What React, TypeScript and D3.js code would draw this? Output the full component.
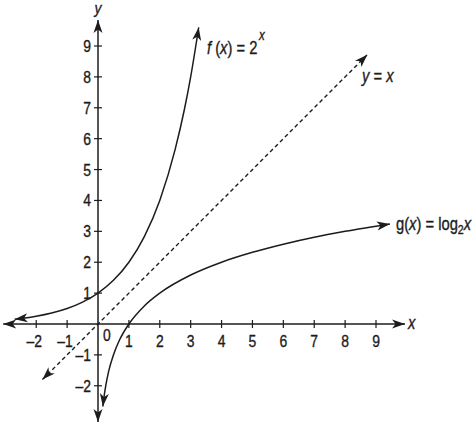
import React from "react";
import * as d3 from "d3";

const xTicks = [-2, -1, 1, 2, 3, 4, 5, 6, 7, 8, 9];
const yTicks = [-2, -1, 1, 2, 3, 4, 5, 6, 7, 8, 9];

// points for f(x) = 2^x
const expPoints: [number, number][] = [
  [-2.7, 0.154], [-2.5, 0.177], [-2, 0.25], [-1.5, 0.354], [-1, 0.5], [-0.5, 0.707],
  [0, 1], [0.5, 1.414], [1, 2], [1.5, 2.83], [2, 4], [2.5, 5.66], [2.8, 6.96], [3, 8], [3.26, 9.6],
];
// points for g(x) = log2 x
const logPoints: [number, number][] = [
  [0.157, -2.67], [0.2, -2.32], [0.25, -2], [0.35, -1.51], [0.5, -1], [0.7, -0.51],
  [1, 0], [1.5, 0.585], [2, 1], [3, 1.585], [4, 2], [5, 2.32], [6, 2.585], [7, 2.81],
  [8, 3], [9.45, 3.24],
];
// dashed y = x
const idPoints: [number, number][] = [[-1.8, -1.8], [8.72, 8.72]];

const W = 474;
const H = 424;
const ink = "#1c1c1c";
const font = "'Liberation Sans', Arial, sans-serif";
const SX = 0.82;

type TProps = {
  x: number;
  y: number;
  size?: number;
  anchor?: "start" | "middle" | "end";
  italic?: boolean;
  children: React.ReactNode;
};

function T({ x, y, size = 17, anchor = "start", italic = false, children }: TProps) {
  return (
    <g transform={`translate(${x},${y}) scale(${SX},1)`}>
      <text
        x={0}
        y={0}
        textAnchor={anchor}
        fontFamily={font}
        fontSize={size}
        fontStyle={italic ? "italic" : "normal"}
        fill={ink}
        stroke={ink}
        strokeWidth={0.35}
      >
        {children}
      </text>
    </g>
  );
}

export default function App() {
  const x = d3.scaleLinear().domain([0, 9]).range([98, 376]);
  const y = d3.scaleLinear().domain([0, 9]).range([324, 46]);
  const line = d3
    .line<[number, number]>()
    .x((d) => x(d[0]))
    .y((d) => y(d[1]))
    .curve(d3.curveMonotoneX);
  const straight = d3
    .line<[number, number]>()
    .x((d) => x(d[0]))
    .y((d) => y(d[1]));

  const xMin = -3.07, xMax = 9.94, yMin = -3.17, yMax = 9.84;

  return (
    <svg
      width={W}
      height={H}
      style={{ position: "absolute", left: 0, top: 0, background: "#fff" }}
    >
      <defs>
        <marker
          id="arr"
          viewBox="-14 -6 16 12"
          refX={0}
          refY={0}
          markerWidth={16}
          markerHeight={12}
          markerUnits="userSpaceOnUse"
          orient="auto-start-reverse"
        >
          <path d="M0,0 L-13,-4.5 L-9.5,0 L-13,4.5 Z" fill={ink} />
        </marker>
      </defs>

      {/* axes */}
      <line
        x1={x(xMin)} x2={x(xMax)} y1={y(0)} y2={y(0)}
        stroke={ink} strokeWidth={1.5}
        markerStart="url(#arr)" markerEnd="url(#arr)"
      />
      <line
        x1={x(0)} x2={x(0)} y1={y(yMin)} y2={y(yMax)}
        stroke={ink} strokeWidth={1.5}
        markerStart="url(#arr)" markerEnd="url(#arr)"
      />

      {/* ticks */}
      {xTicks.map((t) => (
        <g key={"xt" + t}>
          <line x1={x(t)} x2={x(t)} y1={y(0) - 4} y2={y(0) + 4} stroke={ink} strokeWidth={1.2} />
          <T x={x(t) - (t < 0 ? 2 : 0)} y={y(0) + 23} anchor="middle">
            {t < 0 ? "–" + Math.abs(t) : String(t)}
          </T>
        </g>
      ))}
      {yTicks.map((t) => (
        <g key={"yt" + t}>
          <line x1={x(0) - 4} x2={x(0) + 4} y1={y(t)} y2={y(t)} stroke={ink} strokeWidth={1.2} />
          <T x={x(0) - 7} y={y(t) + 6} anchor="end">
            {t < 0 ? "–" + Math.abs(t) : String(t)}
          </T>
        </g>
      ))}
      <T x={x(0) + 5} y={y(0) + 17}>0</T>

      {/* axis labels */}
      <T x={x(xMax) + 3} y={y(0) + 5} size={18} italic>x</T>
      <T x={x(0)} y={14} size={17} anchor="middle" italic>y</T>

      {/* curves */}
      <path
        d={straight(idPoints) ?? ""}
        fill="none" stroke={ink} strokeWidth={1.4} strokeDasharray="4 3"
        markerStart="url(#arr)" markerEnd="url(#arr)"
      />
      <path
        d={line(expPoints) ?? ""}
        fill="none" stroke={ink} strokeWidth={1.5}
        markerStart="url(#arr)" markerEnd="url(#arr)"
      />
      <path
        d={line(logPoints) ?? ""}
        fill="none" stroke={ink} strokeWidth={1.5}
        markerStart="url(#arr)" markerEnd="url(#arr)"
      />

      {/* function labels */}
      <T x={207} y={54} size={18}>
        <tspan fontStyle="italic">f</tspan>
        <tspan> (</tspan>
        <tspan fontStyle="italic">x</tspan>
        <tspan>) = 2</tspan>
        <tspan fontStyle="italic" fontSize={14} dy={-14} dx={2}>x</tspan>
      </T>
      <T x={362} y={82} size={18}>
        <tspan fontStyle="italic">y</tspan>
        <tspan> = </tspan>
        <tspan fontStyle="italic">x</tspan>
      </T>
      <T x={396} y={230} size={18}>
        <tspan>g(</tspan>
        <tspan fontStyle="italic">x</tspan>
        <tspan>) = log</tspan>
        <tspan fontSize={13} dy={4}>2</tspan>
        <tspan fontStyle="italic" dy={-4}>x</tspan>
      </T>
    </svg>
  );
}
